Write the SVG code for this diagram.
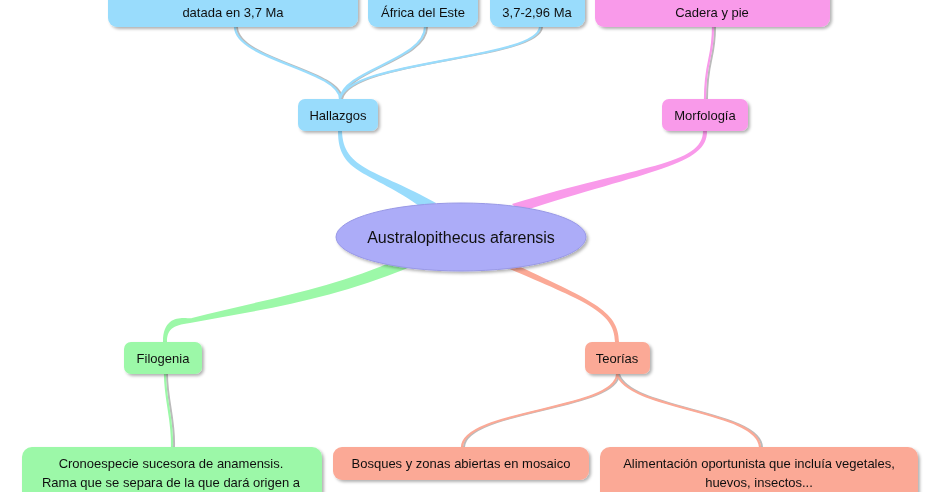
<svg xmlns="http://www.w3.org/2000/svg" width="939" height="492" viewBox="0 0 939 492">
<defs>
<filter id="sh" x="-10%" y="-10%" width="130%" height="140%"><feDropShadow dx="2" dy="2" stdDeviation="1.5" flood-color="#000" flood-opacity="0.3"/></filter>
</defs>
<style>
text{font-family:"Liberation Sans",Arial,sans-serif;font-size:13px;fill:#111;text-anchor:middle}
.b{fill:#99dcfc}.p{fill:#f99aea}.g{fill:#9cf8a8}.s{fill:#fba996}
.n{filter:url(#sh)}
.t{fill:none;stroke-width:2.2}
.sd{fill:none;stroke:#bbb;stroke-width:2}
</style>
<rect width="939" height="492" fill="#fff"/>
<g id="connectors">
<path class="sd" d="M342 99 C342 70 238 60 237 27 M342 99 C345 70 427 60 427 27 M342 99 C350 60 540 60 542 27 M707 99 C707 60 715 60 715 27 M167 374 C167 400 175 420 174 447 M619 374 C619 410 465 410 464 447 M619 374 C630 410 760 410 762 447"/>
<path class="t" stroke="#99dcfc" d="M340 99 C340 70 236 60 235 27 M340 99 C343 70 425 60 425 27 M340 99 C348 60 538 60 540 27"/>
<path class="t" stroke="#f99aea" d="M705 99 C705 60 713 60 713 27"/>
<path class="t" stroke="#9cf8a8" d="M165 374 C165 400 173 420 172 447"/>
<path class="t" stroke="#fba996" d="M617 374 C617 410 463 410 462 447 M617 374 C628 410 758 410 760 447"/>
<path fill="#99dcfc" d="M338 131 C338 175 370 170 422 208 L436 203 C378 170 343 170 342 131 Z"/>
<path fill="#f99aea" d="M703 131 C703 165 640 165 512 204 L520 212 C650 170 708 165 707 131 Z"/>
<path fill="#9cf8a8" d="M163 342 C163 310 190 320 192 318 C260 300 330 290 398 259 L408 268 C330 300 260 310 190 323 C172 325 167 330 167 342 Z"/>
<path fill="#fba996" d="M615 342 C615 310 580 300 498 264 L510 262 C590 300 619 310 619 342 Z"/>
</g>
<g id="n1" class="n"><rect class="b" x="108" y="-20" width="250" height="47" rx="9"/><text x="233" y="17">datada en 3,7 Ma</text></g>
<g id="n2" class="n"><rect class="b" x="368" y="-20" width="110" height="47" rx="9"/><text x="423" y="17">África del Este</text></g>
<g id="n3" class="n"><rect class="b" x="490" y="-20" width="95" height="47" rx="9"/><text x="537" y="17">3,7-2,96 Ma</text></g>
<g id="n4" class="n"><rect class="p" x="595" y="-20" width="235" height="47" rx="9"/><text x="712" y="17">Cadera y pie</text></g>
<g id="hallazgos" class="n"><rect class="b" x="298" y="99" width="80" height="32" rx="7"/><text x="338" y="120">Hallazgos</text></g>
<g id="morfologia" class="n"><rect class="p" x="662" y="99" width="86" height="32" rx="7"/><text x="705" y="120">Morfología</text></g>
<g id="center" class="n"><ellipse cx="461" cy="237" rx="125" ry="34" fill="#acacf8" stroke="#9898e6"/><text x="461" y="243" style="font-size:16px">Australopithecus afarensis</text></g>
<g id="filogenia" class="n"><rect class="g" x="124" y="342" width="78" height="32" rx="7"/><text x="163" y="363">Filogenia</text></g>
<g id="teorias" class="n"><rect class="s" x="585" y="342" width="65" height="32" rx="7"/><text x="617" y="363">Teorías</text></g>
<g id="crono" class="n"><rect class="g" x="22" y="447" width="300" height="60" rx="10"/><text x="171" y="468">Cronoespecie sucesora de anamensis.</text><text x="171" y="487">Rama que se separa de la que dará origen a</text></g>
<g id="bosques" class="n"><rect class="s" x="333" y="447" width="256" height="33" rx="9"/><text x="461" y="468">Bosques y zonas abiertas en mosaico</text></g>
<g id="alim" class="n"><rect class="s" x="600" y="447" width="318" height="60" rx="10"/><text x="759" y="468">Alimentación oportunista que incluía vegetales,</text><text x="759" y="487">huevos, insectos...</text></g>
</svg>
